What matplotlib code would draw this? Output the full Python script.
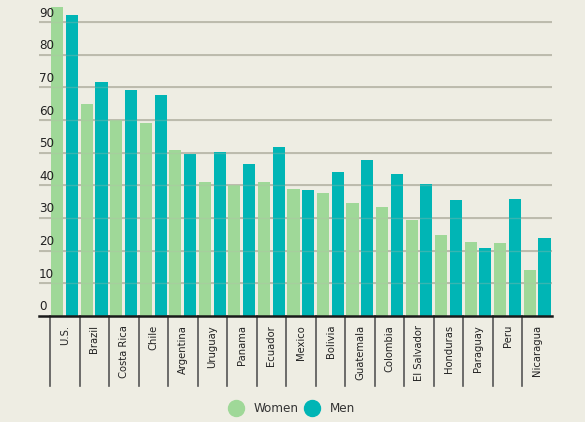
import matplotlib.pyplot as plt
import numpy as np
from matplotlib.lines import Line2D

countries = ["U.S.", "Brazil", "Costa Rica", "Chile", "Argentina", "Uruguay",
             "Panama", "Ecuador", "Mexico", "Bolivia", "Guatemala", "Colombia",
             "El Salvador", "Honduras", "Paraguay", "Peru", "Nicaragua"]
women = [94.8, 64.8, 60.1, 59.0, 50.8, 41.2, 40.2, 41.0, 38.8, 37.7, 34.5,
         33.5, 29.4, 24.8, 22.7, 22.5, 14.1]
men = [92.3, 71.7, 69.3, 67.8, 49.6, 50.1, 46.7, 51.9, 38.5, 44.0, 47.8,
       43.5, 40.4, 35.4, 20.7, 35.8, 24.0]
yticks = [0, 10, 20, 30, 40, 50, 60, 70, 80, 90]

bg = "#EEEDE3"
c_women = "#9FD898"
c_men = "#00B5B5"

plt.rcParams["font.family"] = ["DejaVu Sans"]
plt.rcParams["font.stretch"] = "condensed"

fig = plt.figure(figsize=(5.85, 4.22), dpi=100, facecolor=bg)
ax = fig.add_axes([39 / 585, 106 / 422, 513 / 585, 316 / 422])
ax.set_facecolor(bg)

x = np.arange(len(countries))
ax.bar(x - 0.255, women, width=0.41, color=c_women, zorder=3)
ax.bar(x + 0.245, men, width=0.41, color=c_men, zorder=3)

ax.set_xlim(-0.873, len(countries) - 0.5)
ax.set_ylim(0, 96.8)

# gridlines + labels sitting on them
for v in yticks:
    if v > 0:
        ax.axhline(v, color="#B9B8AA", lw=1.3, zorder=1)
        ax.axhline(v, color="#B9B8AA", lw=1.0, alpha=0.3, zorder=3.5)
    ax.text(-0.873, v + 0.8, str(v), ha="left", va="bottom", fontsize=9.5,
            color="#222222")
ax.axhline(0, color="#1a1a1a", lw=1.8, zorder=4, clip_on=False)

for s in ax.spines.values():
    s.set_visible(False)
ax.set_xticks([])
ax.set_yticks([])

# separators and country labels below the axis
trans = ax.get_xaxis_transform()
for i, name in enumerate(countries):
    ax.add_line(Line2D([i - 0.5, i - 0.5], [0, -70 / 316], transform=trans,
                       color="#555555", lw=1.2, clip_on=False))
    ax.text(i, -9 / 316, name, transform=trans, rotation=90, ha="center",
            va="top", fontsize=8, color="#222222")

# legend
ly = 1 - 408 / 422
for cx, tx, col, lab in [(236, 254, c_women, "Women"), (312, 330, c_men, "Men")]:
    fig.add_artist(Line2D([cx / 585], [ly], marker="o", ms=11.5, ls="",
                          color=col, transform=fig.transFigure))
    fig.text(tx / 585, ly, lab, ha="left", va="center", fontsize=9.5,
             color="#333333")

fig.savefig("out.png", dpi=100, facecolor=bg)
